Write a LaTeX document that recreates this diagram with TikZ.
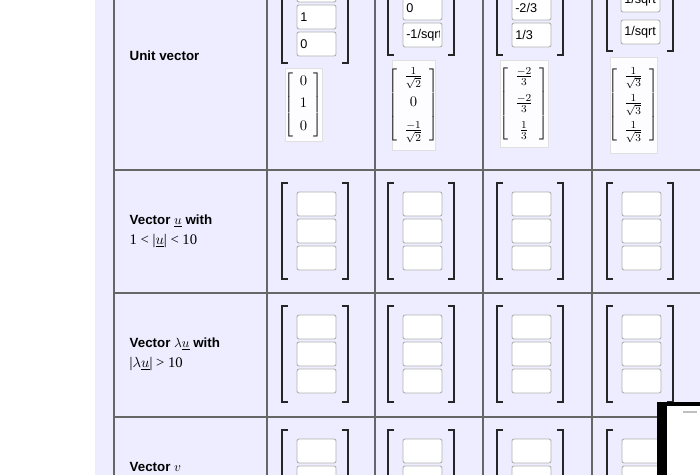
\documentclass[tikz,border=0pt]{standalone}
\usepackage{fontspec}
\setmainfont{Liberation Sans}
\newfontfamily\serifm{Liberation Serif}
\tikzset{
 grid/.style={draw=black!60,line width=1pt},
 brk/.style={line width=1.6pt,black!85},
 ibox/.style={draw=black!30,fill=white,rounded corners=1.5pt,line width=0.7pt},
 sbox/.style={draw=black!12,fill=white!70!blue!2,line width=0.7pt},
 lab/.style={anchor=west,font=\bfseries\fontsize{10}{12}\selectfont},
 labm/.style={anchor=west,font=\fontsize{11}{12}\selectfont},
 btxt/.style={anchor=west,font=\fontsize{9.5}{11}\selectfont,inner sep=0pt},
 mat/.style={font=\fontsize{11}{13}\selectfont,inner sep=0pt},
}
\begin{document}
\begin{tikzpicture}[x=0.75pt,y=-0.75pt]
\useasboundingbox (0,0) rectangle (700,475);
\fill[white] (0,0) rectangle (700,475);
\fill[blue!7!white] (95,0) rectangle (700,475);
% grid
\foreach \x in {114,267,375,483,592} \draw[grid] (\x,0) -- (\x,475);
\foreach \y in {170,293,417} \draw[grid] (114,\y) -- (700,\y);
% labels
\node[lab] (l1) at (125,56) {Unit vector};
\node[lab] (l2) at (125,221) {Vector $\underline{u}$ with};
\node[labm] (l2b) at (125,241) {\serifm 1 < |$\underline{u}$| < 10};
\node[lab] (l3) at (125,344) {Vector $\lambda\underline{u}$ with};
\node[labm] (l3b) at (125,364) {\serifm |$\lambda\underline{u}$| > 10};
\node[lab] (l4) at (125,467) {Vector $v$};
% rows 2,3,4 empty vectors
\foreach \x in {282,388,497,607}{
 \foreach \y in {183,306,430}{
  \draw[brk] (\x+6,\y) -- (\x,\y) -- (\x,\y+96) -- (\x+6,\y+96);
  \draw[brk] (\x+60,\y) -- (\x+66,\y) -- (\x+66,\y+96) -- (\x+60,\y+96);
  \foreach \d in {9,36,63} \draw[ibox] (\x+15,\y+\d) rectangle (\x+54,\y+\d+24);
 }
}
% row 1 brackets
\foreach \x/\b in {282/63,388/55,497/55,607/51}{
  \draw[brk] (\x,-5) -- (\x,\b) -- (\x+6,\b);
  \draw[brk] (\x+66,-5) -- (\x+66,\b) -- (\x+60,\b);
}
% row 1 input boxes
\foreach \x/\y/\t [count=\i] in {297/-22/{},297/5/{1},297/32/{0},403/-4/{0},403/23/{-1/sqrt},512/-4/{-2/3},512/23/{1/3},621/-12/{1/sqrt},621/20/{1/sqrt}}{
  \draw[ibox] (\x,\y) rectangle (\x+39,\y+24);
  \begin{scope}
   \clip (\x,\y) rectangle (\x+36,\y+24);
   \node[btxt] (t\i) at (\x+3,\y+12) {\t};
  \end{scope}
}
% static answers
\draw[sbox] (285,68) rectangle (322,141);
\node[mat] (m1) at (303.5,104.5) {$\left[\begin{array}{c}0\\[4pt]1\\[4pt]0\end{array}\right]$};
\draw[sbox] (392,60) rectangle (435,150);
\node[mat] (m2) at (413.5,105) {$\left[\begin{array}{c}\frac{1}{\sqrt2}\\[7pt]0\\[7pt]\frac{-1}{\sqrt2}\end{array}\right]$};
\draw[sbox] (500,60) rectangle (548,147);
\node[mat] (m3) at (524,103.5) {$\left[\begin{array}{c}\frac{-2}{3}\\[7pt]\frac{-2}{3}\\[7pt]\frac{1}{3}\end{array}\right]$};
\draw[sbox] (610,57) rectangle (657,153);
\node[mat] (m4) at (633.5,105) {$\left[\begin{array}{c}\frac{1}{\sqrt3}\\[7pt]\frac{1}{\sqrt3}\\[7pt]\frac{1}{\sqrt3}\end{array}\right]$};
% device corner
\fill[black] (657,402) rectangle (700,475);
\fill[white] (667,406) rectangle (700,475);
\fill[black!25] (683,411) rectangle (697,413);
\end{tikzpicture}
\end{document}
